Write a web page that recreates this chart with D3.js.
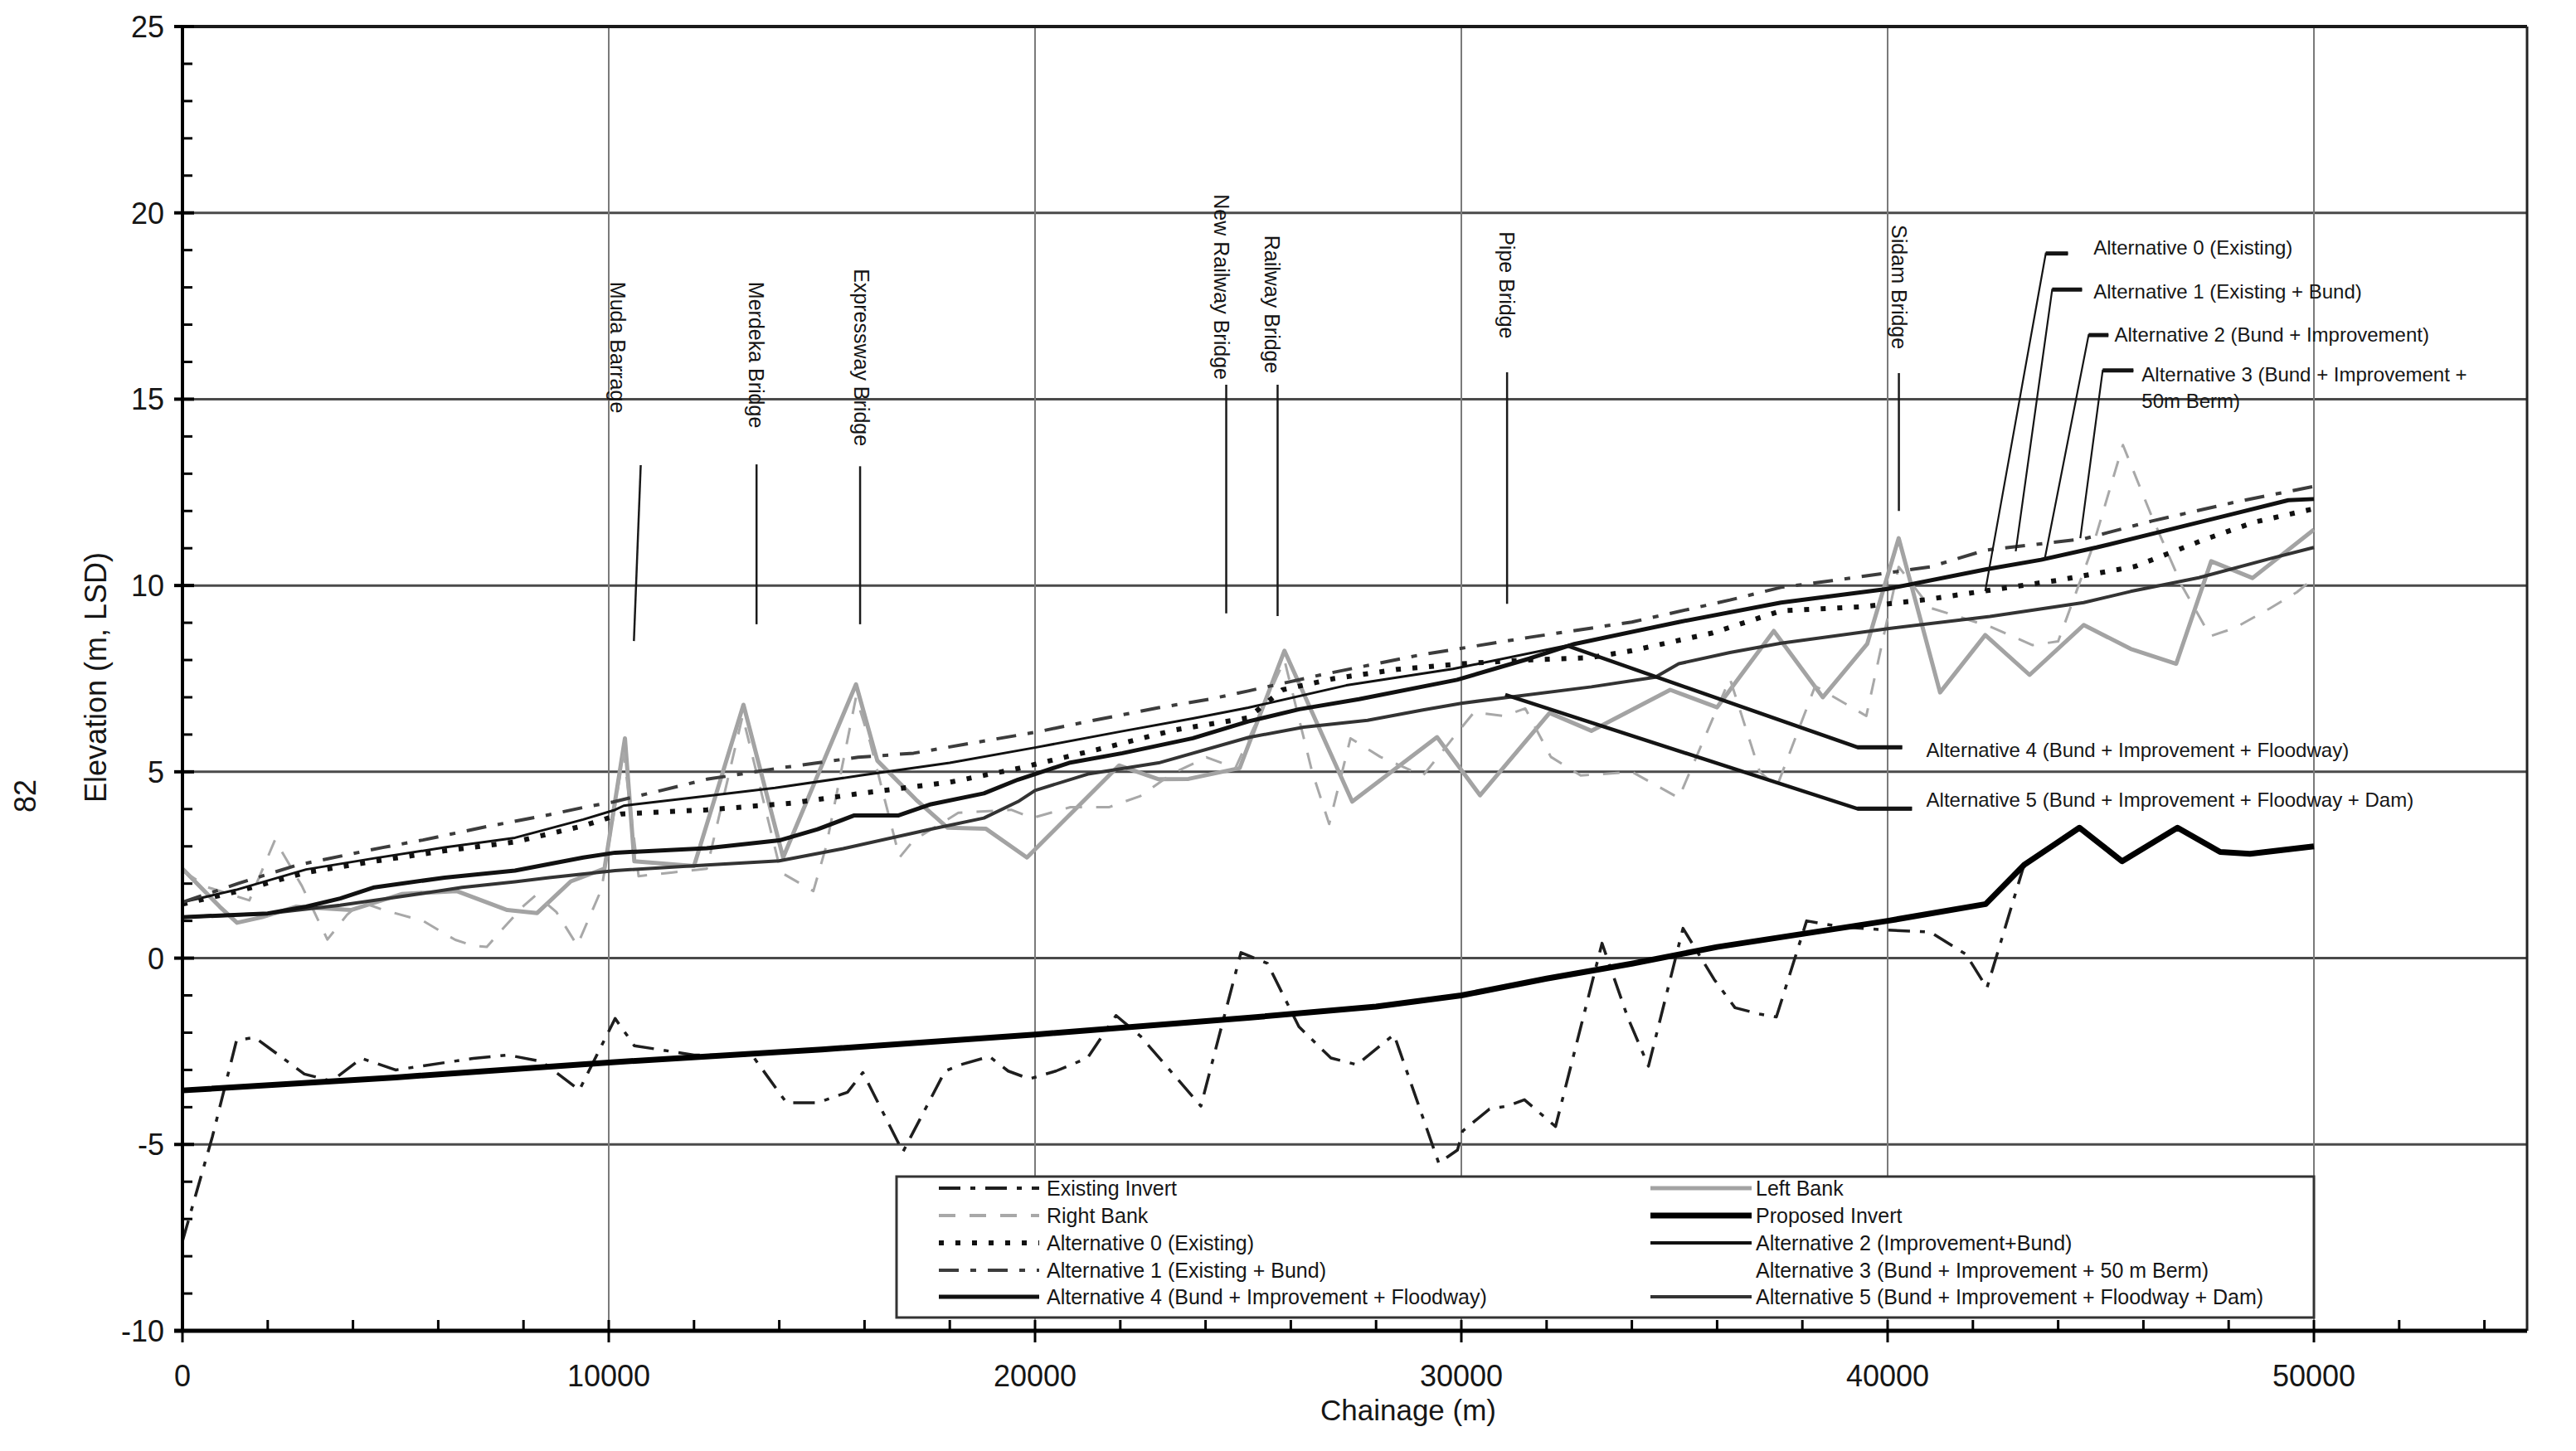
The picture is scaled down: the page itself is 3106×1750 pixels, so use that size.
<!DOCTYPE html>
<html><head><meta charset="utf-8">
<script src="https://cdn.jsdelivr.net/npm/d3@7"></script>
<style>
body{margin:0;background:#fff}
svg{display:block}
text{font-family:"Liberation Sans",Arial,sans-serif;fill:#161616}
</style>
</head><body>
<svg id="c" width="3106" height="1750"></svg>
<script>
// ---------------- DATA ----------------
const xTicks=[0,10000,20000,30000,40000,50000];
const yTicks=[-10,-5,0,5,10,15,20,25];

const leftBank=[[0,2.4],[875,1.38],[1280,0.95],[1870,1.1],[2660,1.38],[3950,1.29],[5140,1.72],[6430,1.8],[7620,1.29],[8320,1.21],[9110,2.06],[9900,2.4],[10380,5.9],[10600,2.6],[12000,2.47],[13160,6.8],[14090,2.7],[15800,7.35],[16300,5.3],[17210,4.25],[17950,3.5],[18850,3.47],[19810,2.7],[21970,5.17],[22900,4.8],[23600,4.81],[24800,5.1],[25850,8.25],[27440,4.2],[29430,5.93],[30440,4.37],[32070,6.58],[33050,6.1],[34900,7.2],[36000,6.73],[37330,8.78],[38480,7.0],[39520,8.43],[40260,11.27],[41230,7.13],[42290,8.67],[43330,7.6],[44600,8.94],[45700,8.3],[46770,7.9],[47590,10.65],[48560,10.2],[50000,11.5]];

const rightBank=[[0,2.35],[600,1.9],[1570,1.55],[2170,3.17],[2800,1.94],[3400,0.5],[3860,1.16],[4200,1.5],[4700,1.3],[5660,0.99],[6400,0.49],[6810,0.34],[7140,0.3],[7460,0.72],[8000,1.4],[8300,1.7],[8770,1.24],[9260,0.34],[9830,1.85],[10350,5.5],[10700,2.2],[11500,2.3],[12300,2.4],[13140,6.5],[14040,2.3],[14800,1.8],[15100,3.0],[15800,7.0],[16130,5.8],[16820,2.7],[17150,3.16],[18200,3.9],[19440,3.98],[19930,3.76],[20830,4.05],[21730,4.05],[22470,4.35],[23200,4.94],[24020,5.39],[24700,5.1],[25850,8.0],[26500,5.0],[26900,3.6],[27400,5.9],[28100,5.4],[29100,4.9],[29800,5.9],[30300,6.6],[31000,6.5],[31500,6.7],[32100,5.4],[32800,4.9],[34000,5.0],[35100,4.3],[36300,7.5],[37000,5.0],[37400,4.6],[38300,7.3],[39500,6.5],[40260,10.5],[41000,9.4],[42400,8.9],[43400,8.4],[44000,8.5],[44800,11.0],[45520,13.77],[46180,11.9],[46900,10.0],[47570,8.64],[48140,8.86],[48960,9.38],[49600,9.82],[50000,10.2]];

const existingInvert=[[0,-7.6],[700,-4.8],[1270,-2.2],[1700,-2.13],[2860,-3.11],[3500,-3.3],[4200,-2.69],[5000,-3.0],[6820,-2.69],[7630,-2.6],[8420,-2.77],[9310,-3.54],[10150,-1.62],[10600,-2.35],[12000,-2.6],[13360,-2.6],[14170,-3.88],[14900,-3.88],[15600,-3.6],[15960,-3.07],[16900,-5.2],[17890,-3.03],[18250,-2.86],[18930,-2.64],[19370,-3.03],[19870,-3.24],[20490,-3.03],[21230,-2.68],[21900,-1.54],[22470,-2.09],[23890,-3.97],[24340,-1.99],[24830,0.15],[25450,-0.14],[26190,-1.84],[26940,-2.68],[27550,-2.86],[28420,-2.05],[29470,-5.5],[29910,-5.15],[30030,-4.64],[30660,-4.05],[31080,-3.97],[31480,-3.8],[32210,-4.52],[33300,0.4],[33900,-1.58],[34390,-2.9],[35200,0.8],[35930,-0.57],[36420,-1.33],[37000,-1.5],[37390,-1.58],[38100,1.0],[38900,0.84],[39900,0.76],[41000,0.7],[41840,0.1],[42330,-0.8],[43200,2.5],[44500,3.5],[45500,2.6],[46800,3.5],[47800,2.85],[48500,2.8],[50000,3.0]];

const proposedInvert=[[0,-3.55],[5000,-3.2],[10000,-2.8],[15000,-2.45],[20000,-2.05],[25000,-1.6],[28000,-1.3],[30000,-1.0],[32000,-0.55],[34000,-0.15],[36000,0.3],[38000,0.65],[40000,1.0],[42300,1.45],[43200,2.5],[44500,3.5],[45500,2.6],[46800,3.5],[47800,2.85],[48500,2.8],[50000,3.0]];

const alt0=[[0,1.45],[1250,1.78],[2900,2.3],[4500,2.6],[6150,2.88],[7800,3.12],[9400,3.55],[10300,3.87],[12300,3.98],[14300,4.16],[15900,4.42],[18000,4.72],[19600,5.09],[20400,5.31],[21650,5.65],[23300,6.13],[25000,6.45],[25800,7.2],[27000,7.5],[28500,7.75],[30000,7.9],[31500,8.0],[33000,8.06],[34000,8.25],[35900,8.73],[37500,9.32],[39400,9.43],[40900,9.62],[42250,9.85],[44000,10.14],[45800,10.51],[47400,11.22],[48600,11.7],[50000,12.06]];

const alt1=[[0,1.5],[1300,2.0],[2700,2.5],[4700,2.97],[5640,3.17],[7140,3.53],[8610,3.85],[9510,4.07],[10100,4.19],[11230,4.5],[12300,4.8],[14000,5.1],[15850,5.39],[17150,5.5],[18460,5.76],[20000,6.06],[21240,6.35],[22900,6.72],[24100,6.95],[25000,7.17],[26700,7.6],[29000,8.13],[31600,8.61],[34000,9.02],[36300,9.61],[37500,9.95],[38700,10.13],[41000,10.5],[42300,10.95],[44600,11.25],[46200,11.73],[48200,12.25],[50000,12.66]];

const alt2=[[0,1.5],[1250,1.83],[2900,2.38],[4500,2.68],[6150,2.97],[7800,3.23],[9400,3.72],[10150,3.98],[10350,4.09],[12300,4.35],[13900,4.57],[15900,4.9],[18000,5.24],[20000,5.65],[22050,6.09],[23700,6.43],[25000,6.72],[27300,7.32],[29800,7.76],[32650,8.43],[35100,9.02],[37500,9.54],[40000,9.91],[42300,10.43],[43600,10.69],[44900,11.02],[46500,11.47],[48100,11.92],[49400,12.29],[50000,12.32]];

const alt4=[[0,1.1],[2000,1.2],[2900,1.38],[3700,1.6],[4500,1.9],[6150,2.16],[7800,2.35],[9400,2.7],[10150,2.83],[12300,2.95],[14000,3.16],[14900,3.46],[15760,3.83],[16800,3.83],[17560,4.13],[18800,4.42],[19600,4.79],[20000,4.94],[20800,5.24],[22050,5.5],[23700,5.9],[25000,6.35],[26200,6.68],[27600,6.95],[29900,7.47],[31600,8.04],[32650,8.43],[35100,9.02],[37500,9.54],[40000,9.91],[42300,10.43],[43600,10.69],[44900,11.02],[46500,11.47],[48100,11.92],[49400,12.29],[50000,12.32]];

const alt5=[[0,1.1],[2000,1.2],[3700,1.42],[5300,1.68],[6560,1.9],[7800,2.05],[8600,2.16],[10150,2.35],[12300,2.5],[14000,2.61],[15500,2.94],[17560,3.46],[18800,3.76],[19600,4.2],[20000,4.5],[21240,4.94],[22900,5.24],[25000,5.92],[26300,6.2],[27800,6.38],[29100,6.66],[30000,6.84],[31100,7.0],[33050,7.28],[34550,7.54],[35100,7.9],[36300,8.2],[37500,8.45],[40000,8.84],[42400,9.17],[44600,9.54],[45700,9.84],[47300,10.21],[49000,10.73],[50000,11.02]];

const bridgeNames=["Muda Barrage","Merdeka Bridge","Expressway Bridge","New Railway Bridge","Railway Bridge","Pipe Bridge","Sidam Bridge"];
const bridgeLabelCh=[10220,13467,15935,24369,25573,31073,40264];
const bridgeLabelTop=[18.15,18.15,18.5,20.5,19.4,19.5,19.68];
const bridgeLineTopCh=[10750,13467,15896,24485,25690,31073,40264];
const bridgeLineBotCh=[10590,13467,15896,24485,25690,31073,40264];
const bridgeLineTop=[13.23,13.25,13.2,15.39,15.39,15.72,15.7];
const bridgeLineBot=[8.51,8.96,8.96,9.25,9.18,9.51,12.0];

const annoLines=[["Alternative 0 (Existing)"],["Alternative 1 (Existing + Bund)"],["Alternative 2 (Bund + Improvement)"],["Alternative 3 (Bund + Improvement +","50m Berm)"],["Alternative 4 (Bund + Improvement + Floodway)"],["Alternative 5 (Bund + Improvement + Floodway + Dam)"]];
const annoPoint=[[42290,9.85],[43005,10.92],[43685,10.71],[44520,11.27],[32490,8.38],[31030,7.07]];
const annoElbow=[[43710,18.91],[43860,17.94],[44715,16.72],[45045,15.77],[39290,5.66],[39290,4.01]];
const annoStubEnd=[[44230,18.91],[44560,17.94],[45180,16.72],[45765,15.77],[40340,5.66],[40570,4.01]];
const annoTextPos=[[44830,19.08],[44830,17.9],[45320,16.74],[45960,15.68],[40906,5.59],[40906,4.26]];
const annoWeight=[2.2,2.2,2.2,2.2,4.5,4.5];

const legendLeft=["Existing Invert","Right Bank","Alternative 0 (Existing)","Alternative 1 (Existing + Bund)","Alternative 4 (Bund + Improvement + Floodway)"];
const legendRight=["Left Bank","Proposed Invert","Alternative 2 (Improvement+Bund)","Alternative 3 (Bund + Improvement + 50 m Berm)","Alternative 5 (Bund + Improvement + Floodway  + Dam)"];

// ---------------- DRAW ----------------
const svg=d3.select("#c");
const x=d3.scaleLinear().domain([0,55000]).range([220,3047]);
const y=d3.scaleLinear().domain([-10,25]).range([1605,32]);
const line=d3.line().x(d=>x(d[0])).y(d=>y(d[1]));

const styles={
  leftBank:{stroke:"#a3a3a3",w:5,dash:null},
  rightBank:{stroke:"#a8a8a8",w:3,dash:"20,17"},
  existingInvert:{stroke:"#1e1e1e",w:3.5,dash:"26,12,6,12"},
  proposedInvert:{stroke:"#000",w:7,dash:null},
  alt5:{stroke:"#333",w:4,dash:null},
  alt4:{stroke:"#111",w:5,dash:null},
  alt2:{stroke:"#111",w:3,dash:null},
  alt0:{stroke:"#111",w:6,dash:"6,14"},
  alt1:{stroke:"#3c3c3c",w:4,dash:"24,14,7,14"},
  alt3:null
};

// gridlines
const grid=svg.append("g");
grid.selectAll("line.h").data(yTicks.filter(v=>v>-10&&v<25)).join("line").attr("class","h")
  .attr("x1",x(0)).attr("x2",x(55000)).attr("y1",d=>y(d)).attr("y2",d=>y(d))
  .attr("stroke","#4a4a4a").attr("stroke-width",3);
grid.selectAll("line.v").data(xTicks.filter(v=>v>0)).join("line").attr("class","v")
  .attr("x1",d=>x(d)).attr("x2",d=>x(d)).attr("y1",y(25)).attr("y2",y(-10))
  .attr("stroke","#7a7a7a").attr("stroke-width",2);
// border top/right
svg.append("line").attr("x1",x(0)).attr("x2",x(55000)).attr("y1",y(25)).attr("y2",y(25)).attr("stroke","#1a1a1a").attr("stroke-width",4);
svg.append("line").attr("x1",x(55000)).attr("x2",x(55000)).attr("y1",y(25)).attr("y2",y(-10)).attr("stroke","#222").attr("stroke-width",3);

// series
const seriesList=[["leftBank",leftBank],["rightBank",rightBank],["existingInvert",existingInvert],["proposedInvert",proposedInvert],["alt5",alt5],["alt4",alt4],["alt2",alt2],["alt0",alt0],["alt1",alt1]];
const sg=svg.append("g");
seriesList.forEach(([k,data])=>{
  const s=styles[k];
  sg.append("path").datum(data).attr("d",line).attr("fill","none")
    .attr("stroke",s.stroke).attr("stroke-width",s.w)
    .attr("stroke-dasharray",s.dash).attr("stroke-linejoin","round");
});

// bridges
const bg=svg.append("g");
bridgeNames.forEach((n,i)=>{
  bg.append("line").attr("x1",x(bridgeLineTopCh[i])).attr("y1",y(bridgeLineTop[i]))
    .attr("x2",x(bridgeLineBotCh[i])).attr("y2",y(bridgeLineBot[i]))
    .attr("stroke","#1a1a1a").attr("stroke-width",2.5);
  bg.append("text").attr("transform",`translate(${x(bridgeLabelCh[i])},${y(bridgeLabelTop[i])}) rotate(90)`)
    .attr("dominant-baseline","central").attr("font-size",25).text(n);
});

// annotations
const ag=svg.append("g");
annoLines.forEach((lines,i)=>{
  ag.append("path").datum([annoPoint[i],annoElbow[i],annoStubEnd[i]]).attr("d",line)
    .attr("fill","none").attr("stroke","#141414").attr("stroke-width",annoWeight[i]);
  ag.append("path").datum([annoElbow[i],annoStubEnd[i]]).attr("d",line)
    .attr("fill","none").attr("stroke","#141414").attr("stroke-width",5);
  const t=ag.append("text").attr("x",x(annoTextPos[i][0])).attr("y",y(annoTextPos[i][1]))
    .attr("font-size",24).attr("dominant-baseline","central");
  lines.forEach((l,j)=>t.append("tspan").attr("x",x(annoTextPos[i][0])).attr("dy",j?32:0).text(l));
});

// axes
const ax=svg.append("g");
ax.append("line").attr("x1",x(0)).attr("x2",x(0)).attr("y1",y(25)).attr("y2",y(-10)).attr("stroke","#000").attr("stroke-width",4);
ax.append("line").attr("x1",x(0)-10).attr("x2",x(55000)).attr("y1",y(-10)).attr("y2",y(-10)).attr("stroke","#000").attr("stroke-width",5);
const yMinor=d3.range(-10,25.01,1).filter(v=>v%5!==0);
ax.selectAll("line.ym").data(yMinor).join("line").attr("class","ym")
  .attr("x1",x(0)).attr("x2",x(0)+12).attr("y1",d=>y(d)).attr("y2",d=>y(d)).attr("stroke","#000").attr("stroke-width",3);
ax.selectAll("line.yM").data(yTicks).join("line").attr("class","yM")
  .attr("x1",x(0)-10).attr("x2",x(0)+14).attr("y1",d=>y(d)).attr("y2",d=>y(d)).attr("stroke","#000").attr("stroke-width",4);
const xMinor=d3.range(0,55001,2000).filter(v=>v%10000!==0);
ax.selectAll("line.xm").data(xMinor).join("line").attr("class","xm")
  .attr("x1",d=>x(d)).attr("x2",d=>x(d)).attr("y1",y(-10)).attr("y2",y(-10)-13).attr("stroke","#000").attr("stroke-width",3);
ax.selectAll("line.xM").data(xTicks).join("line").attr("class","xM")
  .attr("x1",d=>x(d)).attr("x2",d=>x(d)).attr("y1",y(-10)-13).attr("y2",y(-10)+14).attr("stroke","#000").attr("stroke-width",3);
ax.selectAll("text.yl").data(yTicks).join("text").attr("class","yl")
  .attr("x",198).attr("y",d=>y(d)).attr("dy","0.36em").attr("text-anchor","end").attr("font-size",36).text(d=>d);
ax.selectAll("text.xl").data(xTicks).join("text").attr("class","xl")
  .attr("x",d=>x(d)).attr("y",1672).attr("text-anchor","middle").attr("font-size",36).text(d=>d);
ax.append("text").attr("x",1698).attr("y",1713).attr("text-anchor","middle").attr("font-size",35).text("Chainage (m)");
ax.append("text").attr("transform","translate(115,817) rotate(-90)").attr("text-anchor","middle")
  .attr("dominant-baseline","central").attr("font-size",36).text("Elevation (m, LSD)");
svg.append("text").attr("transform","translate(30,960) rotate(-90)").attr("text-anchor","middle")
  .attr("dominant-baseline","central").attr("font-size",36).attr("fill","#444").text("82");

// legend
const lg=svg.append("g");
const lx0=1081,lx1=x(50000),ly0=1419,ly1=1589;
lg.append("rect").attr("x",lx0).attr("y",ly0).attr("width",lx1-lx0).attr("height",ly1-ly0)
  .attr("fill","#fff").attr("stroke","#333").attr("stroke-width",3);
const rowY=[1433,1466,1499,1532,1564];
const leftKeys=["existingInvert","rightBank","alt0","alt1","alt4"];
const rightKeys=["leftBank","proposedInvert","alt2","alt3","alt5"];
function legendCol(labels,keys,sx0,sx1,tx){
  labels.forEach((lab,i)=>{
    const s=styles[keys[i]];
    if(s){
      lg.append("line").attr("x1",sx0).attr("x2",sx1).attr("y1",rowY[i]).attr("y2",rowY[i])
        .attr("stroke",s.stroke).attr("stroke-width",Math.max(s.w,4)).attr("stroke-dasharray",s.dash);
    }
    lg.append("text").attr("x",tx).attr("y",rowY[i]).attr("dominant-baseline","central")
      .attr("font-size",25).text(lab);
  });
}
legendCol(legendLeft,leftKeys,1132,1253,1262);
legendCol(legendRight,rightKeys,1990,2112,2117);
</script>
</body></html>
